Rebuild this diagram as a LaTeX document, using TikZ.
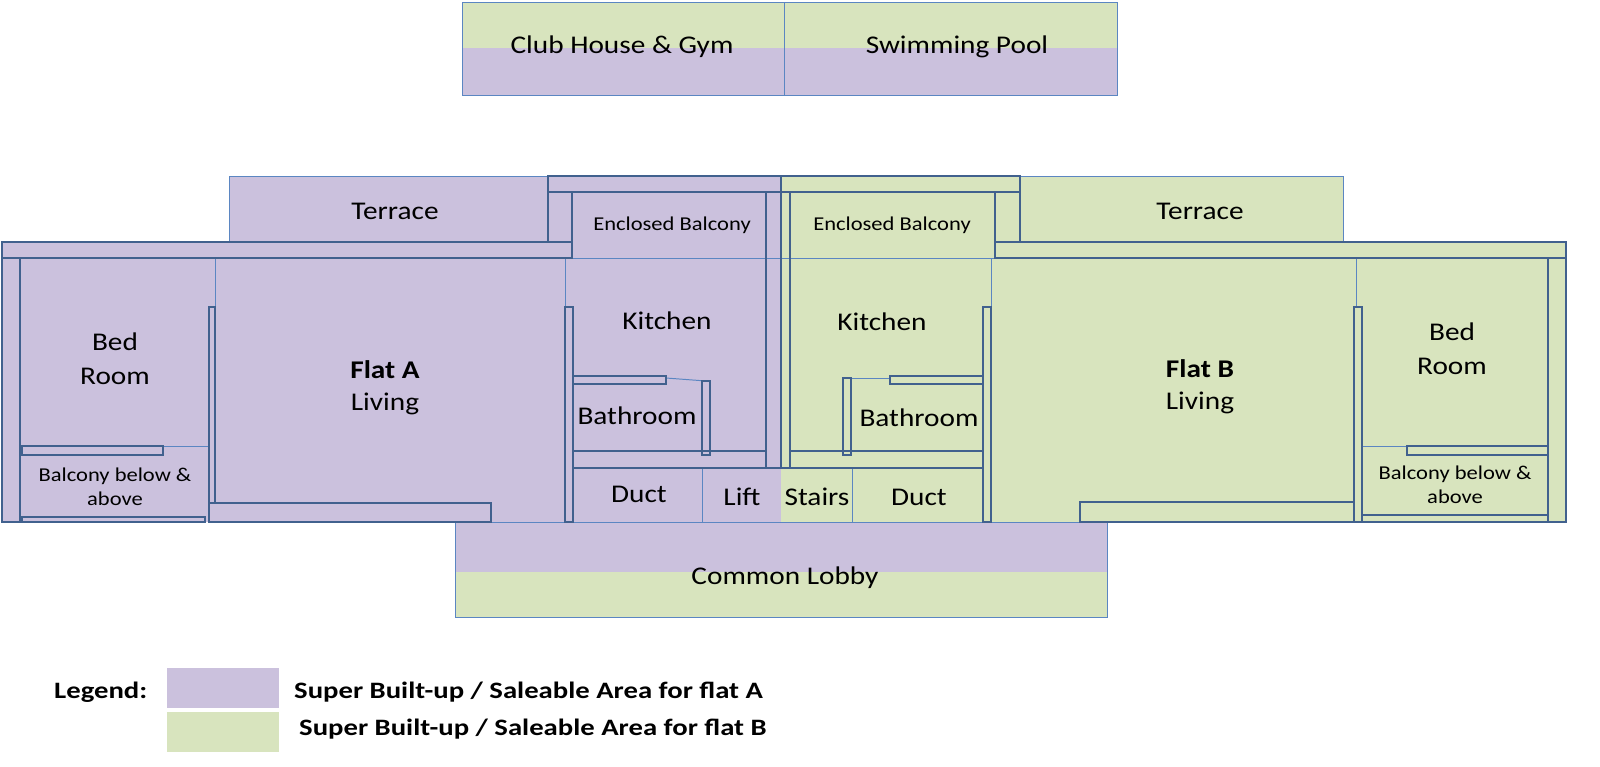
\documentclass[tikz,border=0pt]{standalone}
\usepackage{fontspec}
\setmainfont{Carlito}
\definecolor{pA}{HTML}{CBC1DD}
\definecolor{pB}{HTML}{D8E4BE}
\definecolor{wallc}{HTML}{41618E}
\definecolor{thin}{HTML}{5B86C2}
\begin{document}
\begin{tikzpicture}[x=1.0204pt,y=-1.0204pt,
  wall/.style={draw=wallc,line width=2.6pt},
  tl/.style={draw=thin,line width=1pt},
  lbl/.style={font=\fontsize{26}{31}\selectfont,align=center,xscale=1.15,transform shape},
  sm/.style={font=\fontsize{20}{24}\selectfont,align=center,xscale=1.15,transform shape},
  leg/.style={font=\bfseries\fontsize{24}{28}\selectfont,anchor=west,xscale=1.22,transform shape}]
\useasboundingbox (0,0) rectangle (1600,766);
% top boxes
\fill[pB] (462,2) rectangle (1117,48);
\fill[pA] (462,48) rectangle (1117,95);
\draw[tl] (462,2) rectangle (784,95);
\draw[tl] (784,2) rectangle (1117,95);
% lobby
\fill[pA] (455,522) rectangle (1107,572);
\fill[pB] (455,572) rectangle (1107,617);
\draw[tl] (455,522) rectangle (1107,617);
% flat A region
\fill[pA] (229,176) rectangle (781,242);
\fill[pA] (2,242) rectangle (781,522);
\draw[tl] (229,242) -- (229,176) -- (548,176);
% flat B region
\fill[pB] (781,176) rectangle (1343,242);
\fill[pB] (781,242) rectangle (1566,522);
\draw[tl] (1020,176) -- (1343,176) -- (1343,242);
% thin interior lines
\draw[tl] (20,258) -- (1548,258);
\draw[tl] (215,258) -- (215,307);
\draw[tl] (565,258) -- (565,307);
\draw[tl] (991,258) -- (991,307);
\draw[tl] (1356,258) -- (1356,307);
\draw[tl] (163,446) -- (209,446);
\draw[tl] (1362,446) -- (1407,446);
\draw[tl] (666,378) -- (706,381);
\draw[tl] (847,378) -- (890,378);
\draw[tl] (702,468) -- (702,522);
\draw[tl] (852,468) -- (852,522);
\draw[tl] (20,503) -- (20,522);
% walls flat A
\draw[wall] (2,242) rectangle (572,258);
\draw[wall] (2,258) rectangle (20,522);
\draw[wall] (548,176) rectangle (781,192);
\draw[wall] (548,192) rectangle (572,242);
\draw[wall] (209,307) rectangle (215,503);
\draw[wall] (209,503) rectangle (491,522);
\draw[wall] (22,446) rectangle (163,455);
\draw[wall] (22,517) rectangle (205,522);
\draw[wall] (565,307) rectangle (573,522);
\draw[wall] (573,376) rectangle (666,384);
\draw[wall] (702,381) rectangle (710,455);
\draw[wall] (573,451) rectangle (766,468);
\draw[wall] (766,192) rectangle (781,468);
% walls flat B
\draw[wall] (781,176) rectangle (1020,192);
\draw[wall] (995,192) rectangle (1020,242);
\draw[wall] (995,242) rectangle (1566,258);
\draw[wall] (1548,258) rectangle (1566,522);
\draw[wall] (781,192) rectangle (790,468);
\draw[wall] (983,307) rectangle (991,522);
\draw[wall] (890,376) rectangle (983,384);
\draw[wall] (843,378) rectangle (851,455);
\draw[wall] (790,451) rectangle (983,468);
\draw[wall] (1354,307) rectangle (1362,522);
\draw[wall] (1080,502) rectangle (1354,522);
\draw[wall] (1407,446) rectangle (1548,455);
\draw[wall] (1362,515) rectangle (1548,522);
% labels
\node[lbl] (ch) at (622,47) {Club House \& Gym};
\node[lbl] (sp) at (957,47) {Swimming Pool};
\node[lbl] (ta) at (395,211) {Terrace};
\node[lbl] (tb) at (1200,211) {Terrace};
\node[sm] (ea) at (672,225) {Enclosed Balcony};
\node[sm] (eb) at (892,225) {Enclosed Balcony};
\node[lbl] (bra) at (115,359) {Bed\\[4pt]Room};
\node[lbl] (fa) at (385,388) {\textbf{Flat A}\\[2pt]Living};
\node[lbl] (ka) at (667,321) {Kitchen};
\node[lbl] (ba) at (637,416) {Bathroom};
\node[lbl] (da) at (639,494) {Duct};
\node[lbl] (li) at (742,497) {Lift};
\node[lbl] (st) at (817,497) {Stairs};
\node[lbl] (db) at (919,497) {Duct};
\node[lbl] (kb) at (882,322) {Kitchen};
\node[lbl] (bb) at (919,418) {Bathroom};
\node[lbl] (fb) at (1200,387) {\textbf{Flat B}\\[2pt]Living};
\node[lbl] (brb) at (1452,349) {Bed\\[4pt]Room};
\node[sm] (bla) at (115,487) {Balcony below \&\\above};
\node[sm] (blb) at (1455,485) {Balcony below \&\\above};
\node[lbl] (cl) at (785,578) {Common Lobby};
% legend
\node[leg] (lg) at (50,692) {Legend:};
\fill[pA] (167,668) rectangle (279,708);
\fill[pB] (167,712) rectangle (279,752);
\node[leg] (l1) at (290,692) {Super Built-up / Saleable Area for flat A};
\node[leg] (l2) at (295,729) {Super Built-up / Saleable Area for flat B};
\end{tikzpicture}
\end{document}
